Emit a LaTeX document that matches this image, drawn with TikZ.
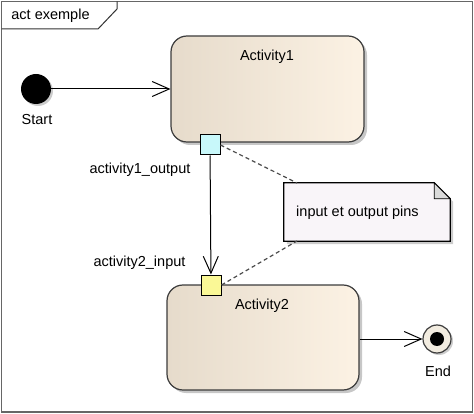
\documentclass[tikz,border=0pt]{standalone}
\usepackage{fontspec}
\setmainfont{Liberation Sans}
\usetikzlibrary{arrows.meta,shadows,calc}
\definecolor{actL}{RGB}{230,219,203}
\definecolor{actR}{RGB}{252,242,228}
\definecolor{edge}{RGB}{60,60,60}
\definecolor{outC}{RGB}{200,248,250}
\definecolor{inC}{RGB}{250,248,150}
\definecolor{noteC}{RGB}{249,245,249}
\definecolor{foldC}{RGB}{218,218,218}
\definecolor{endC}{RGB}{242,236,224}
\begin{document}
\begin{tikzpicture}[x=1pt,y=-1pt,
  font=\fontsize{14.5}{17}\selectfont,
  activity/.style={draw=edge, line width=1.2pt, rounded corners=16pt,
    left color=actL, right color=actR, inner sep=0pt,
    drop shadow={shadow xshift=3pt, shadow yshift=-3pt, fill=black, opacity=0.22}},
  pinbox/.style={draw=black, line width=1pt, minimum size=20pt, inner sep=0pt},
  flow/.style={draw=black, line width=1pt, -{Straight Barb[length=17pt,width=15pt,line width=1pt]}},
  dashline/.style={draw=black!70, line width=1.2pt, dash pattern=on 4pt off 3pt},
  frame/.style={draw=black!60, line width=1.6pt},
  tabline/.style={draw=black!80, line width=1pt},
  txt/.style={inner sep=0pt}]
\useasboundingbox (0,0) rectangle (474,414);
\fill[white] (0,0) rectangle (474,414);
% frame
\draw[frame] (1.5,1.5) rectangle (472.5,412);
\draw[tabline] (1.5,29) -- (98,29) -- (117,9) -- (117,1.5);
\node[txt] (tab) at (50.5,16) {act exemple};
% start
\node[circle, fill=black, minimum size=30pt, inner sep=0pt,
  drop shadow={shadow xshift=2pt, shadow yshift=-2pt, fill=black, opacity=0.2}] (start) at (36,89) {};
\node[txt] (startl) at (37,120) {Start};
% activities
\node[activity, minimum width=193pt, minimum height=106pt] (act1) at (267.5,89) {};
\node[txt] (act1t) at (267,57) {Activity1};
\node[activity, minimum width=192pt, minimum height=105pt] (act2) at (263,337.5) {};
\node[txt] (act2t) at (262,306) {Activity2};
% pins
\node[pinbox, fill=outC] (out) at (210,145) {};
\node[txt] (outl) at (140,170) {activity1\_output};
\node[pinbox, fill=inC] (in) at (211,285) {};
\node[txt] (inl) at (139.5,263) {activity2\_input};
% note
\node[minimum width=166pt, minimum height=58pt, inner sep=0pt] (note) at (367,212) {};
\fill[black, opacity=0.2] ($(note.north west)+(3,3)$) -- ($(note.north east)+(-13,3)$) -- ($(note.north east)+(3,19)$) -- ($(note.south east)+(3,3)$) -- ($(note.south west)+(3,3)$) -- cycle;
\draw[draw=black, line width=1.2pt, fill=noteC] (note.north west) -- ($(note.north east)+(-16,0)$) -- ($(note.north east)+(0,16)$) -- (note.south east) -- (note.south west) -- cycle;
\draw[draw=black, line width=0.8pt, fill=foldC] ($(note.north east)+(-16,0)$) -- ($(note.north east)+(-16,16)$) -- ($(note.north east)+(0,16)$) -- cycle;
\node[txt] (notet) at (357.5,213) {input et output pins};
\coordinate (n1) at (297,183);
\coordinate (n2) at (297,241);
% end
\node[circle, draw=edge, line width=1.2pt, fill=endC, minimum size=28pt, inner sep=0pt,
  drop shadow={shadow xshift=2pt, shadow yshift=-2pt, fill=black, opacity=0.2}] (end) at (437,339) {};
\node[circle, fill=black, minimum size=14pt, inner sep=0pt] (enddot) at (end.center) {};
\node[txt] (endl) at (438,371) {End};
% connectors
\draw[flow] (start) -- (act1);
\draw[flow] (out) -- (in);
\draw[flow] (act2.east |- end.west) -- (end);
\draw[dashline] (out.east) -- (n1);
\draw[dashline] (in.east) -- (n2);
\end{tikzpicture}
\end{document}
